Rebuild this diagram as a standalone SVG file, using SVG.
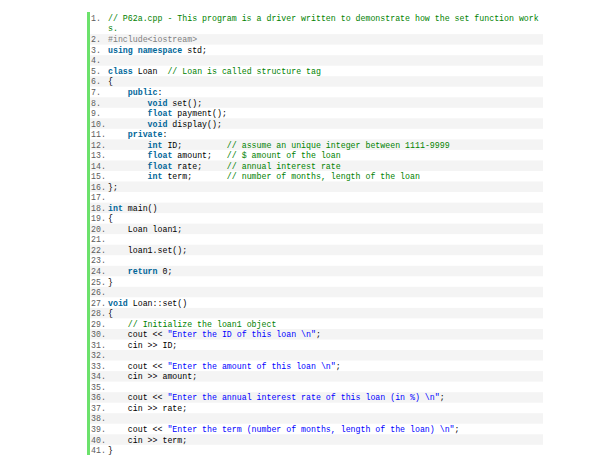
<svg xmlns="http://www.w3.org/2000/svg" width="614" height="474" viewBox="0 0 614 474">
<style>
text{font-family:"Liberation Mono","DejaVu Sans Mono",monospace;font-size:8.25px;white-space:pre;fill:#000}
.n{fill:#5c5c5c}
.c{fill:#008200}
.k{fill:#006699;font-weight:bold}
.s{fill:#0000ff}
.p{fill:#808080}
.st{fill:#f4f4f4}
</style>
<rect width="614" height="474" fill="#fff"/>
<g id="stripes">
<rect class="st" x="90" y="34.1" width="453" height="10.5"/>
<rect class="st" x="90" y="55.2" width="453" height="10.5"/>
<rect class="st" x="90" y="76.2" width="453" height="10.5"/>
<rect class="st" x="90" y="97.3" width="453" height="10.5"/>
<rect class="st" x="90" y="118.3" width="453" height="10.5"/>
<rect class="st" x="90" y="139.4" width="453" height="10.5"/>
<rect class="st" x="90" y="160.5" width="453" height="10.5"/>
<rect class="st" x="90" y="181.5" width="453" height="10.5"/>
<rect class="st" x="90" y="202.6" width="453" height="10.5"/>
<rect class="st" x="90" y="223.6" width="453" height="10.5"/>
<rect class="st" x="90" y="244.7" width="453" height="10.5"/>
<rect class="st" x="90" y="265.8" width="453" height="10.5"/>
<rect class="st" x="90" y="286.8" width="453" height="10.5"/>
<rect class="st" x="90" y="307.9" width="453" height="10.5"/>
<rect class="st" x="90" y="329.0" width="453" height="10.5"/>
<rect class="st" x="90" y="350.0" width="453" height="10.5"/>
<rect class="st" x="90" y="371.1" width="453" height="10.5"/>
<rect class="st" x="90" y="392.2" width="453" height="10.5"/>
<rect class="st" x="90" y="413.2" width="453" height="10.5"/>
<rect class="st" x="90" y="434.3" width="453" height="10.5"/>
</g>
<rect id="bar" x="87" y="12" width="3" height="443" fill="#6ce26c"/>
<g id="numbers" class="n">
<text class="n" x="91" y="21">1.</text>
<text class="n" x="91" y="42.3">2.</text>
<text class="n" x="91" y="52.8">3.</text>
<text class="n" x="91" y="63.4">4.</text>
<text class="n" x="91" y="73.9">5.</text>
<text class="n" x="91" y="84.4">6.</text>
<text class="n" x="91" y="95">7.</text>
<text class="n" x="91" y="105.5">8.</text>
<text class="n" x="91" y="116">9.</text>
<text class="n" x="91" y="126.5">10.</text>
<text class="n" x="91" y="137.1">11.</text>
<text class="n" x="91" y="147.6">12.</text>
<text class="n" x="91" y="158.1">13.</text>
<text class="n" x="91" y="168.7">14.</text>
<text class="n" x="91" y="179.2">15.</text>
<text class="n" x="91" y="189.7">16.</text>
<text class="n" x="91" y="200.3">17.</text>
<text class="n" x="91" y="210.8">18.</text>
<text class="n" x="91" y="221.3">19.</text>
<text class="n" x="91" y="231.8">20.</text>
<text class="n" x="91" y="242.4">21.</text>
<text class="n" x="91" y="252.9">22.</text>
<text class="n" x="91" y="263.4">23.</text>
<text class="n" x="91" y="274">24.</text>
<text class="n" x="91" y="284.5">25.</text>
<text class="n" x="91" y="295">26.</text>
<text class="n" x="91" y="305.6">27.</text>
<text class="n" x="91" y="316.1">28.</text>
<text class="n" x="91" y="326.6">29.</text>
<text class="n" x="91" y="337.2">30.</text>
<text class="n" x="91" y="347.7">31.</text>
<text class="n" x="91" y="358.2">32.</text>
<text class="n" x="91" y="368.8">33.</text>
<text class="n" x="91" y="379.3">34.</text>
<text class="n" x="91" y="389.8">35.</text>
<text class="n" x="91" y="400.4">36.</text>
<text class="n" x="91" y="410.9">37.</text>
<text class="n" x="91" y="421.4">38.</text>
<text class="n" x="91" y="431.9">39.</text>
<text class="n" x="91" y="442.5">40.</text>
<text class="n" x="91" y="453">41.</text>
</g>
<g id="code">
<text x="108" y="21" class="c">// P62a.cpp - This program is a driver written to demonstrate how the set function work</text>
<text x="108" y="31" class="c">s.</text>
<text x="108" y="42.3" class="p">#include&lt;iostream&gt;</text>
<text x="108" y="52.8"><tspan class="k">using namespace</tspan> std;</text>
<text x="108" y="73.9"><tspan class="k">class</tspan> Loan  <tspan class="c">// Loan is called structure tag</tspan></text>
<text x="108" y="84.4">{</text>
<text x="108" y="95">    <tspan class="k">public</tspan>:</text>
<text x="108" y="105.5">        <tspan class="k">void</tspan> set();</text>
<text x="108" y="116">        <tspan class="k">float</tspan> payment();</text>
<text x="108" y="126.5">        <tspan class="k">void</tspan> display();</text>
<text x="108" y="137.1">    <tspan class="k">private</tspan>:</text>
<text x="108" y="147.6">        <tspan class="k">int</tspan> ID;         <tspan class="c">// assume an unique integer between 1111-9999</tspan></text>
<text x="108" y="158.1">        <tspan class="k">float</tspan> amount;   <tspan class="c">// $ amount of the loan</tspan></text>
<text x="108" y="168.7">        <tspan class="k">float</tspan> rate;     <tspan class="c">// annual interest rate</tspan></text>
<text x="108" y="179.2">        <tspan class="k">int</tspan> term;       <tspan class="c">// number of months, length of the loan</tspan></text>
<text x="108" y="189.7">};</text>
<text x="108" y="210.8"><tspan class="k">int</tspan> main()</text>
<text x="108" y="221.3">{</text>
<text x="108" y="231.8">    Loan loan1;</text>
<text x="108" y="252.9">    loan1.set();</text>
<text x="108" y="274">    <tspan class="k">return</tspan> 0;</text>
<text x="108" y="284.5">}</text>
<text x="108" y="305.6"><tspan class="k">void</tspan> Loan::set()</text>
<text x="108" y="316.1">{</text>
<text x="108" y="326.6">    <tspan class="c">// Initialize the loan1 object</tspan></text>
<text x="108" y="337.2">    cout &lt;&lt; <tspan class="s">"Enter the ID of this loan \n"</tspan>;</text>
<text x="108" y="347.7">    cin &gt;&gt; ID;</text>
<text x="108" y="368.8">    cout &lt;&lt; <tspan class="s">"Enter the amount of this loan \n"</tspan>;</text>
<text x="108" y="379.3">    cin &gt;&gt; amount;</text>
<text x="108" y="400.4">    cout &lt;&lt; <tspan class="s">"Enter the annual interest rate of this loan (in %) \n"</tspan>;</text>
<text x="108" y="410.9">    cin &gt;&gt; rate;</text>
<text x="108" y="431.9">    cout &lt;&lt; <tspan class="s">"Enter the term (number of months, length of the loan) \n"</tspan>;</text>
<text x="108" y="442.5">    cin &gt;&gt; term;</text>
<text x="108" y="453">}</text>
</g>
</svg>
